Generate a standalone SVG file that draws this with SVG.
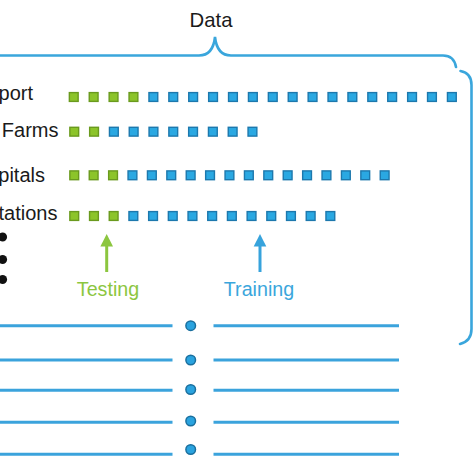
<svg xmlns="http://www.w3.org/2000/svg" width="474" height="474" viewBox="0 0 474 474">
<defs>
<style>
.lbl{font-family:"Liberation Sans",Arial,sans-serif;font-size:20px;fill:#1a1a1a}
.g{fill:#8cc42a;stroke:#6a9a1e;stroke-width:1.4}
.b{fill:#2aa8e2;stroke:#1d78ad;stroke-width:1.4}
.brace{fill:none;stroke:#3aa6dc;stroke-width:2.6;stroke-linecap:round}
.hl{stroke:#3ba3dc;stroke-width:3}
.dot{fill:#2aa3df;stroke:#1a6f9e;stroke-width:1.5}
</style>
<rect id="sq" x="-4.4" y="-4.4" width="8.8" height="8.8"/>
</defs>
<rect width="474" height="474" fill="#ffffff"/>

<g id="brace">
<text class="lbl" x="211" y="26.5" text-anchor="middle" style="font-size:20.3px">Data</text>
<path class="brace" d="M-2,55.5 H199 Q213,55.5 215,37 Q217,55.5 231,55.5 H443 Q454,55.5 456,67"/>
<path class="brace" d="M460.5,71 Q471.5,73 471.5,85 V329 Q471.5,341 460,344"/>
</g>

<g id="row1">
<text class="lbl" x="33" y="99.5" text-anchor="end">port</text>
<g transform="translate(73.75,97)">
<use href="#sq" class="g" x="0"/><use href="#sq" class="g" x="19.9"/><use href="#sq" class="g" x="39.8"/><use href="#sq" class="g" x="59.7"/>
<use href="#sq" class="b" x="79.6"/><use href="#sq" class="b" x="99.5"/><use href="#sq" class="b" x="119.4"/><use href="#sq" class="b" x="139.3"/>
<use href="#sq" class="b" x="159.2"/><use href="#sq" class="b" x="179.1"/><use href="#sq" class="b" x="199"/><use href="#sq" class="b" x="218.9"/>
<use href="#sq" class="b" x="238.8"/><use href="#sq" class="b" x="258.7"/><use href="#sq" class="b" x="278.6"/><use href="#sq" class="b" x="298.5"/>
<use href="#sq" class="b" x="318.4"/><use href="#sq" class="b" x="338.3"/><use href="#sq" class="b" x="358.2"/><use href="#sq" class="b" x="378.1"/>
</g>
</g>

<g id="row2">
<text class="lbl" x="58.5" y="136.5" text-anchor="end">Farms</text>
<g transform="translate(74.25,131.7)">
<use href="#sq" class="g" x="0"/><use href="#sq" class="g" x="19.8"/>
<use href="#sq" class="b" x="39.6"/><use href="#sq" class="b" x="59.4"/><use href="#sq" class="b" x="79.2"/><use href="#sq" class="b" x="99"/>
<use href="#sq" class="b" x="118.8"/><use href="#sq" class="b" x="138.6"/><use href="#sq" class="b" x="158.4"/><use href="#sq" class="b" x="178.2"/>
</g>
</g>

<g id="row3">
<text class="lbl" x="45" y="181.5" text-anchor="end">pitals</text>
<g transform="translate(74.25,175.3)">
<use href="#sq" class="g" x="0"/><use href="#sq" class="g" x="19.4"/><use href="#sq" class="g" x="38.8"/>
<use href="#sq" class="b" x="58.2"/><use href="#sq" class="b" x="77.6"/><use href="#sq" class="b" x="97"/><use href="#sq" class="b" x="116.4"/>
<use href="#sq" class="b" x="135.8"/><use href="#sq" class="b" x="155.2"/><use href="#sq" class="b" x="174.6"/><use href="#sq" class="b" x="194"/>
<use href="#sq" class="b" x="213.4"/><use href="#sq" class="b" x="232.8"/><use href="#sq" class="b" x="252.2"/><use href="#sq" class="b" x="271.6"/>
<use href="#sq" class="b" x="291"/><use href="#sq" class="b" x="310.4"/>
</g>
</g>

<g id="row4">
<text class="lbl" x="57.5" y="219.5" text-anchor="end">tations</text>
<g transform="translate(74.25,216)">
<use href="#sq" class="g" x="0"/><use href="#sq" class="g" x="19.7"/><use href="#sq" class="g" x="39.4"/>
<use href="#sq" class="b" x="59.1"/><use href="#sq" class="b" x="78.8"/><use href="#sq" class="b" x="98.5"/><use href="#sq" class="b" x="118.2"/>
<use href="#sq" class="b" x="137.9"/><use href="#sq" class="b" x="157.6"/><use href="#sq" class="b" x="177.3"/><use href="#sq" class="b" x="197"/>
<use href="#sq" class="b" x="216.7"/><use href="#sq" class="b" x="236.4"/><use href="#sq" class="b" x="256.1"/>
</g>
</g>

<g id="ellipsis">
<circle cx="2.5" cy="237" r="4.6" fill="#111"/>
<circle cx="2.5" cy="259.5" r="4.6" fill="#111"/>
<circle cx="2.5" cy="279.5" r="4.6" fill="#111"/>
</g>

<g id="testing">
<line x1="106.7" y1="272" x2="106.7" y2="243" stroke="#8cc63f" stroke-width="3"/>
<polygon points="106.7,234 113,246.5 100.4,246.5" fill="#8cc63f"/>
<text class="lbl" x="108" y="296" text-anchor="middle" style="fill:#8cc63f;font-size:19.7px">Testing</text>
</g>

<g id="training">
<line x1="260" y1="272" x2="260" y2="243" stroke="#37a3dc" stroke-width="3"/>
<polygon points="260,234 266.3,246.5 253.7,246.5" fill="#37a3dc"/>
<text class="lbl" x="259" y="296" text-anchor="middle" style="fill:#3aa6dc;font-size:19.7px">Training</text>
</g>

<g id="lines">
<line class="hl" x1="0" y1="325.7" x2="172.5" y2="325.7"/><line class="hl" x1="213.5" y1="325.7" x2="399" y2="325.7"/>
<line class="hl" x1="0" y1="360" x2="172.5" y2="360"/><line class="hl" x1="213.5" y1="360" x2="399" y2="360"/>
<line class="hl" x1="0" y1="390.3" x2="172.5" y2="390.3"/><line class="hl" x1="213.5" y1="390.3" x2="399" y2="390.3"/>
<line class="hl" x1="0" y1="422.3" x2="172.5" y2="422.3"/><line class="hl" x1="213.5" y1="422.3" x2="399" y2="422.3"/>
<line class="hl" x1="0" y1="454.3" x2="172.5" y2="454.3"/><line class="hl" x1="213.5" y1="454.3" x2="399" y2="454.3"/>
</g>
<g id="dots">
<circle class="dot" cx="190.7" cy="325.7" r="4.8"/>
<circle class="dot" cx="190.7" cy="360" r="4.8"/>
<circle class="dot" cx="190.7" cy="389.5" r="4.8"/>
<circle class="dot" cx="190.7" cy="421" r="4.8"/>
<circle class="dot" cx="190.7" cy="449.5" r="4.8"/>
</g>
</svg>
